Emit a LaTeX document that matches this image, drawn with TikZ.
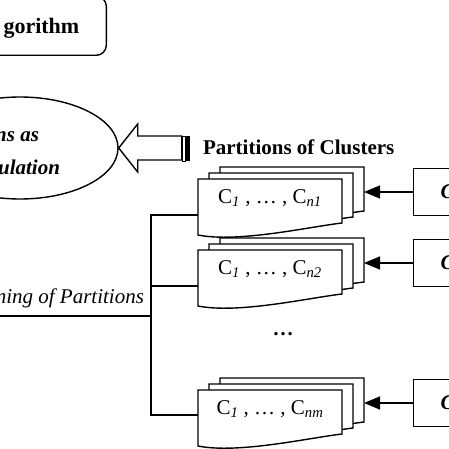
\documentclass[tikz,border=0pt]{standalone}
\usepackage{fontspec}
\setmainfont{Liberation Serif}
\usetikzlibrary{arrows.meta, shapes.geometric}
\newcommand{\docpage}[2]{\filldraw[fill=white, shift={(#1,#2)}] (0,0) -- (144,0) -- (144,44) .. controls (110,48) and (40,64) .. (0,56) -- cycle;}
\newcommand{\docstack}[4]{%
  \docpage{#2+22}{#3-12}
  \docpage{#2+11}{#3-6}
  \docpage{#2}{#3}
  \node (#1) at (#2+72,#3+19) {#4};
  \coordinate (#1-e) at (#2+166,#3+13);
}
\newcommand{\cl}[1]{C\textsubscript{\textit{#1}}}

\begin{document}
\begin{tikzpicture}[x=1pt, y=-1pt, line width=1.4pt, font=\fontsize{21}{25}\selectfont,
  clbox/.style={draw, anchor=west, minimum height=47pt, inner xsep=27pt, font=\fontsize{21}{25}\selectfont\bfseries\itshape},
  arr/.style={-{Triangle[length=16pt, width=13pt]}}]
\useasboundingbox (0,0) rectangle (449,449);
\clip (0,0) rectangle (449,449);
% top box and population
\node[draw, rounded corners=10pt, anchor=south east, minimum height=59pt, inner xsep=27pt, text depth=0pt, font=\fontsize{22}{26}\selectfont\bfseries] (algo) at (107,56) {gorithm};
\node[draw, ellipse, minimum width=196pt, minimum height=102pt] (pop) at (20,148) {};
\node[anchor=base east] (pop1) at (43,142) {\bfseries\itshape ns as};
\node[anchor=base east] (pop2) at (64,174) {\bfseries\itshape pulation};
\draw (pop.east) -- ++(19,-24) -- ++(0,12) -- ++(44,0) -- ++(0,24) -- ++(-44,0) -- ++(0,12) -- cycle;
\draw[line width=0.8pt] (182,136) rectangle (185,161);
\fill (185,136) rectangle (190,161);
\node[anchor=base west] (parts) at (199,155) {\bfseries Partitions of Clusters};
% partitions
\docstack{g1}{198}{179}{\cl{1} , … , \cl{n1}}
\docstack{g2}{198}{250}{\cl{1} , … , \cl{n2}}
\docstack{g3}{198}{390}{\cl{1} , … , \cl{nm}}
\node (more) at (283,334) {\bfseries …};
% combining
\coordinate (comb) at (0,316);
\coordinate (bus) at (151,316);
\coordinate (g1-w) at (198,215);
\coordinate (g2-w) at (198,286);
\coordinate (g3-w) at (198,415);
\draw (comb) -- (bus) node[pos=1, anchor=base east, yshift=13pt, xshift=-3pt] (comblabel) {\itshape ning of Partitions};
\draw (g1-w) -| (bus);
\draw (g3-w) -| (bus);
\draw (g2-w) -- (g2-w -| bus);
% clusterings
\node[clbox] (k1) at (413,192) {C};
\node[clbox] (k2) at (413,263) {C};
\node[clbox] (k3) at (413,403) {C};
\draw[arr] (k1) -- (g1-e);
\draw[arr] (k2) -- (g2-e);
\draw[arr] (k3) -- (g3-e);
\end{tikzpicture}
\end{document}
